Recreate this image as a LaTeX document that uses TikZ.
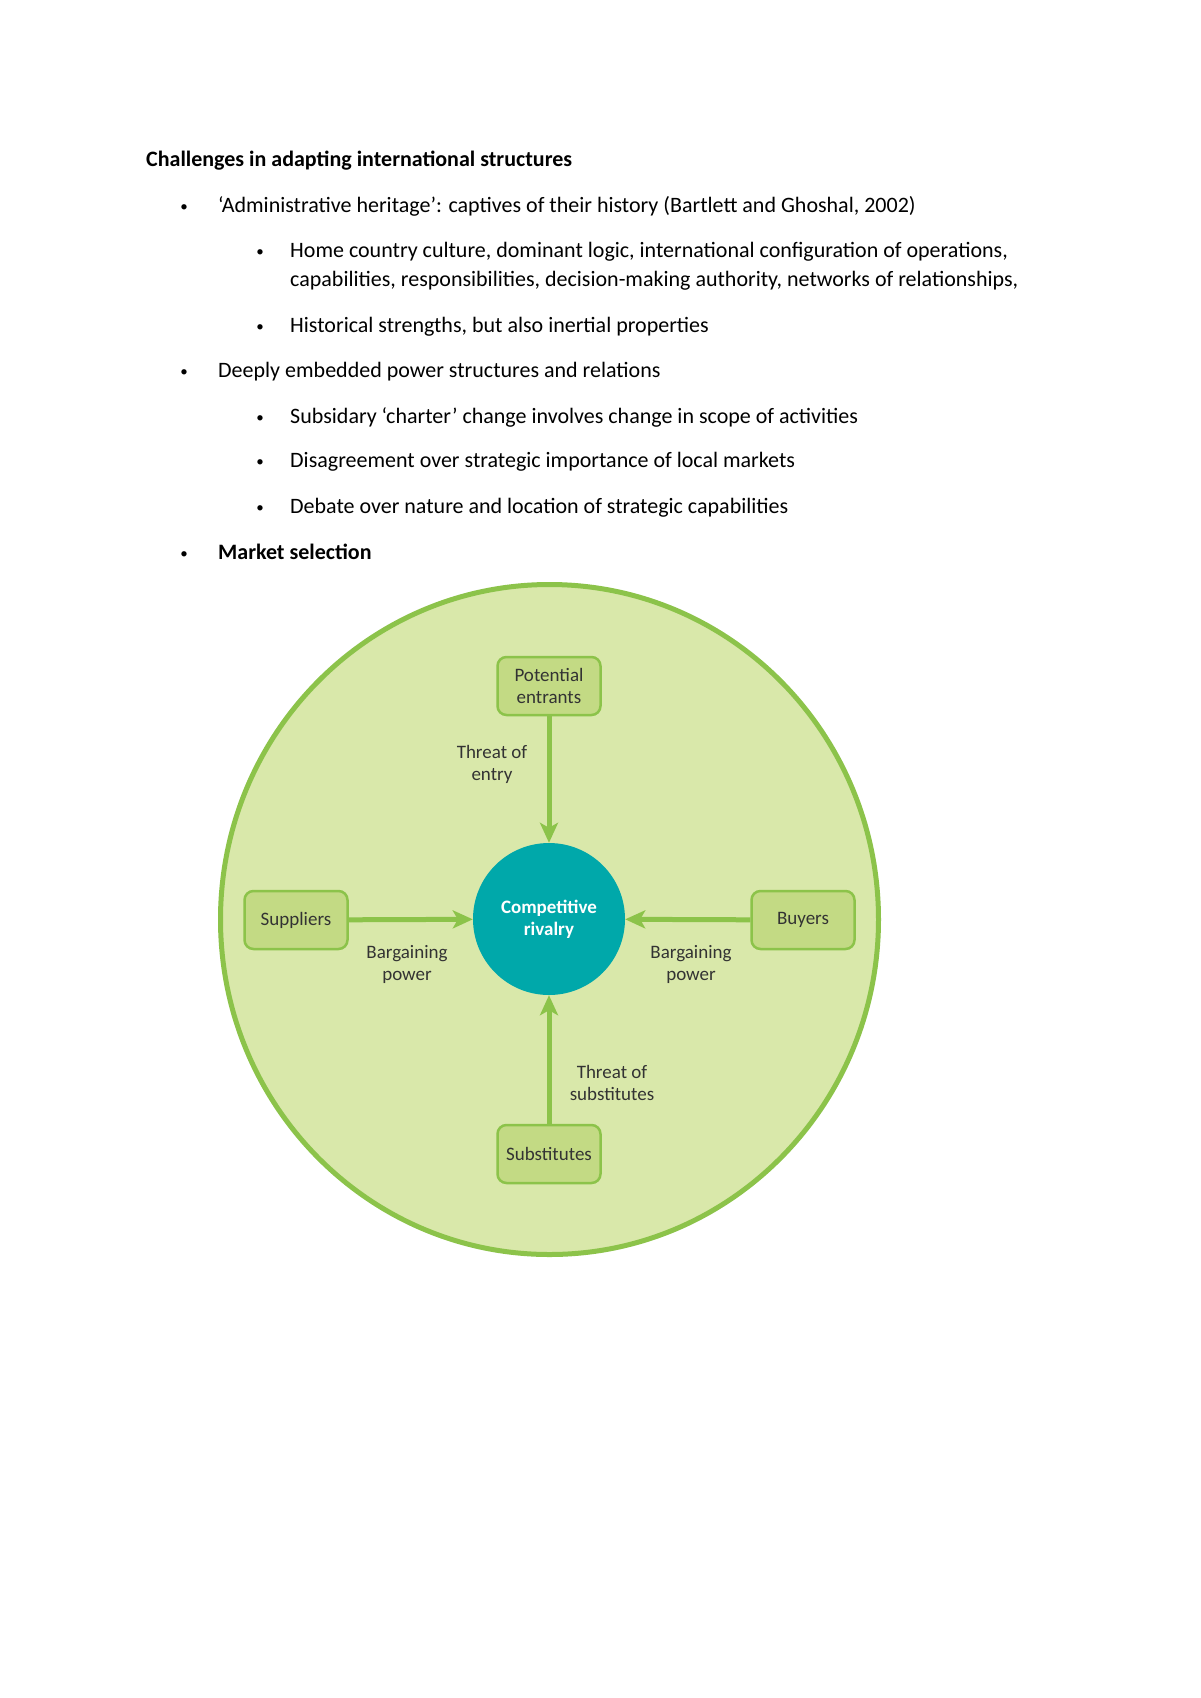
\documentclass[tikz,border=0pt]{standalone}
\usepackage{fontspec}
\setmainfont{Carlito}
\usetikzlibrary{arrows.meta,shapes.geometric}
\definecolor{ringgreen}{HTML}{8CC34A}
\definecolor{ringfill}{HTML}{D9E8AA}
\definecolor{boxfill}{HTML}{C3DA84}
\definecolor{tealc}{HTML}{00A8AA}
\definecolor{labelc}{HTML}{333333}
\tikzset{
  bodytext/.style={anchor=mid west, inner sep=0pt, font=\fontsize{22}{29}\selectfont, text=black},
  bul/.style={anchor=mid, inner sep=0pt, font=\fontsize{15}{20}\selectfont},
  fbox/.style={draw=ringgreen, line width=2.5pt, fill=boxfill, rounded corners=9pt, minimum width=103pt, minimum height=58pt, align=center, inner sep=2pt, font=\fontsize{19}{22}\selectfont, text=labelc},
  lbl/.style={align=center, inner sep=0pt, font=\fontsize{19}{22}\selectfont, text=labelc},
  arr/.style={draw=ringgreen, line width=5pt, -{Stealth[length=20pt,width=18pt,inset=5pt]}},
}
\begin{document}
\begin{tikzpicture}[x=1pt,y=-1pt]
\useasboundingbox (0,0) rectangle (1200,1698);
\fill[white] (0,0) rectangle (1200,1698);
% text
\node[bodytext, font=\fontsize{22}{29}\selectfont\bfseries] (title) at (146,164) {Challenges in adapting international structures};
\node[bul] (b1) at (184,209) {\textbullet};
\node[bodytext] (t1) at (218,210) {‘Administrative heritage’: captives of their history (Bartlett and Ghoshal, 2002)};
\node[bul] (b11) at (260,254) {\textbullet};
\node[bodytext] (t11) at (290,255) {Home country culture, dominant logic, international configuration of operations,};
\node[bodytext] (t11b) at (290,284) {capabilities, responsibilities, decision-making authority, networks of relationships,};
\node[bul] (b12) at (260,329) {\textbullet};
\node[bodytext] (t12) at (290,330) {Historical strengths, but also inertial properties};
\node[bul] (b2) at (184,374) {\textbullet};
\node[bodytext] (t2) at (218,375) {Deeply embedded power structures and relations};
\node[bul] (b21) at (260,420) {\textbullet};
\node[bodytext] (t21) at (290,421) {Subsidary ‘charter’ change involves change in scope of activities};
\node[bul] (b22) at (260,464) {\textbullet};
\node[bodytext] (t22) at (290,465) {Disagreement over strategic importance of local markets};
\node[bul] (b23) at (260,510) {\textbullet};
\node[bodytext] (t23) at (290,511) {Debate over nature and location of strategic capabilities};
\node[bul] (b3) at (184,556) {\textbullet};
\node[bodytext, font=\fontsize{22}{29}\selectfont\bfseries] (t3) at (218,557) {Market selection};
% diagram
\node[ellipse, draw=ringgreen, line width=5pt, fill=ringfill, minimum width=658pt, minimum height=670pt, inner sep=0pt] (ring) at (549.5,919.5) {};
\node[circle, fill=tealc, minimum size=152pt, inner sep=0pt, align=center, text=white, font=\fontsize{19}{22}\selectfont\bfseries] (cr) at (549,919) {Competitive\\rivalry};
\node[fbox] (pe) at (549,686) {Potential\\entrants};
\node[fbox] (su) at (296,920) {Suppliers};
\node[fbox] (bu) at (803,920) {Buyers};
\node[fbox] (sb) at (549,1154) {Substitutes};
\draw[arr] (pe) -- (cr);
\draw[arr] (su) -- (cr);
\draw[arr] (bu) -- (cr);
\draw[arr] (sb) -- (cr);
\node[lbl] (l1) at (492,764) {Threat of\\entry};
\node[lbl] (l2) at (407,964) {Bargaining\\power};
\node[lbl] (l3) at (691,964) {Bargaining\\power};
\node[lbl] (l4) at (612,1083) {Threat of\\substitutes};
\end{tikzpicture}
\end{document}
